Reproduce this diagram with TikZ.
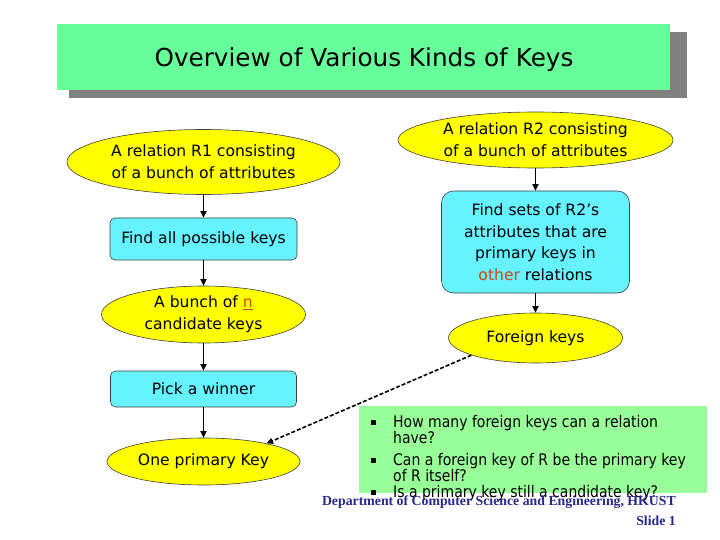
\documentclass[tikz,border=0pt]{standalone}
\usepackage{fontspec}
\setmainfont{DejaVu Sans}
\newfontfamily\bulletfont{DejaVu Sans}[FakeStretch=0.875]
\newfontfamily\footfont{Liberation Serif}
\usetikzlibrary{shapes.geometric,arrows.meta}
\definecolor{titlegreen}{RGB}{102,255,153}
\definecolor{shadowgray}{RGB}{128,128,128}
\definecolor{ellyellow}{RGB}{255,255,0}
\definecolor{boxcyan}{RGB}{102,242,255}
\definecolor{qgreen}{RGB}{153,255,153}
\definecolor{hilite}{RGB}{210,70,20}
\definecolor{footblue}{RGB}{40,40,140}
\begin{document}
\begin{tikzpicture}[x=1pt,y=-1pt,
  nodefont/.style={font=\fontsize{15.6}{22}\selectfont},
  yell/.style={ellipse, draw=black!75, line width=0.6pt, fill=ellyellow, inner sep=0pt, align=center, nodefont},
  cbox/.style={rectangle, rounded corners=5pt, draw=black!75, line width=0.6pt, fill=boxcyan, inner sep=0pt, align=center, nodefont},
  flow/.style={-{Triangle[length=6.5pt,width=6pt]}, line width=1.8pt},
  qline/.style={anchor=base west, inner sep=0pt, font=\bulletfont\fontsize{16}{18}\selectfont},
  sq/.style={fill=black, minimum size=5pt, inner sep=0pt, rectangle},
  foot/.style={anchor=base east, inner sep=0pt, text=footblue, font=\footfont\bfseries\fontsize{13.8}{16}\selectfont}
]
\useasboundingbox (0,0) rectangle (720,540);
% title
\fill[shadowgray] (69,32) rectangle (687,98);
\fill[titlegreen] (57,24) rectangle (670,90);
\node[inner sep=0pt, font=\fontsize{24.7}{28}\selectfont] (title) at (364,60) {Overview of Various Kinds of Keys};
% left column
\node[yell, minimum width=273pt, minimum height=65pt] (r1) at (203.5,162) {A relation R1 consisting\\of a bunch of attributes};
\node[cbox, minimum width=187pt, minimum height=42pt] (find) at (203.5,239) {Find all possible keys};
\node[yell, minimum width=204pt, minimum height=57pt] (cand) at (203.5,314.5) {A bunch of \textcolor{hilite}{\underline{n}}\\candidate keys};
\node[cbox, minimum width=186pt, minimum height=36pt] (pick) at (203.5,389) {Pick a winner};
\node[yell, minimum width=193pt, minimum height=47pt] (prim) at (203.5,461.5) {One primary Key};
% right column
\node[yell, minimum width=275pt, minimum height=56pt] (r2) at (535.5,140) {A relation R2 consisting\\of a bunch of attributes};
\node[cbox, rounded corners=12pt, minimum width=188pt, minimum height=102pt,
  font=\fontsize{15.6}{21.5}\selectfont] (fsets) at (535.5,242) {Find sets of R2’s\\attributes that are\\primary keys in\\\textcolor{hilite}{other} relations};
\node[yell, minimum width=174pt, minimum height=50pt] (fk) at (535.5,338) {Foreign keys};
% connectors
\draw[flow] (r1.south) -- (find.north);
\draw[flow] (find.south) -- (cand.north);
\draw[flow] (cand.south) -- (pick.north);
\draw[flow] (pick.south) -- (prim.north);
\draw[flow] (r2.south) -- (fsets.north);
\draw[flow] (fsets.south) -- (fk.north);
\draw[flow, line width=1.6pt, dash pattern=on 4pt off 2pt] (fk.195) -- (prim.16);
% questions box
\node[rectangle, fill=qgreen, minimum width=348pt, minimum height=87pt, inner sep=0pt] (qbox) at (533,449.5) {};
\node[sq] (b1) at (373,422) {};
\node[sq] (b2) at (373,460) {};
\node[sq] (b3) at (373,492) {};
\node[qline] (q1) at (393,427) {How many foreign keys can a relation};
\node[qline] (q1b) at (393,443) {have?};
\node[qline] (q2) at (393,465) {Can a foreign key of R be the primary key};
\node[qline] (q2b) at (393,481) {of R itself?};
\node[qline] (q3) at (393,497) {Is a primary key still a candidate key?};
% footer
\node[foot] (dept) at (676,505) {Department of Computer Science and Engineering, HKUST};
\node[foot] (slide) at (676,525) {Slide 1};
\end{tikzpicture}
\end{document}
